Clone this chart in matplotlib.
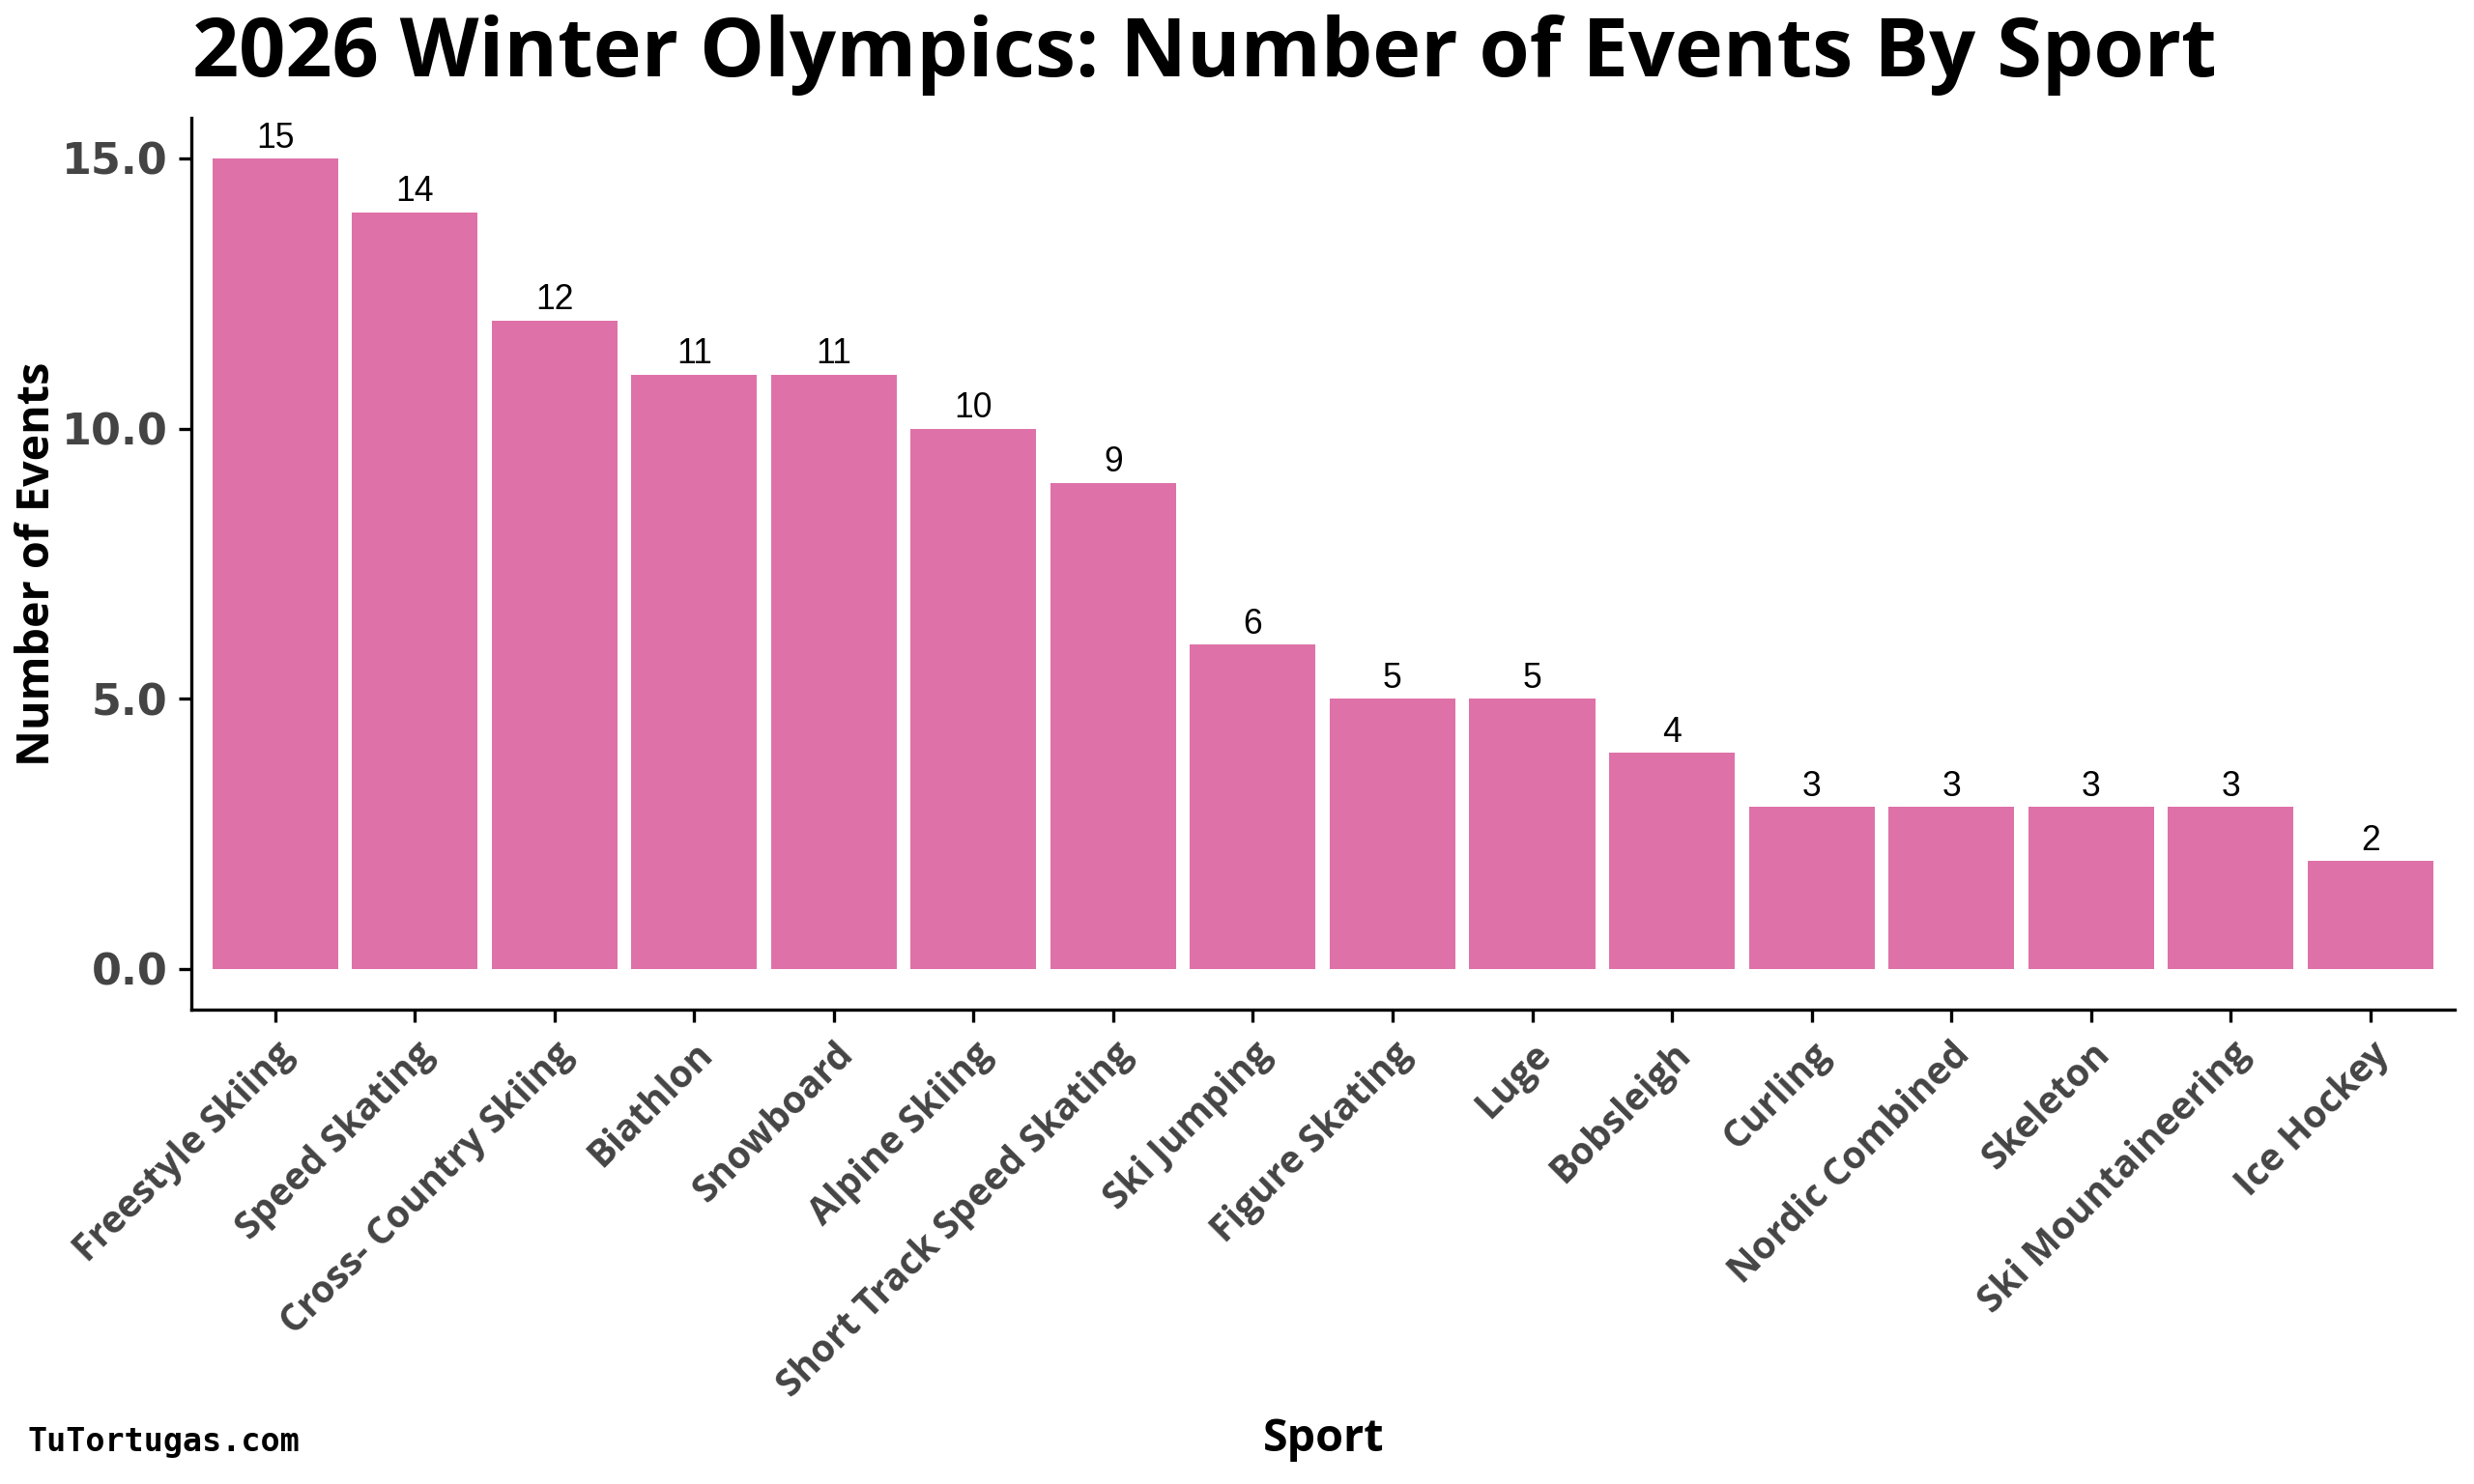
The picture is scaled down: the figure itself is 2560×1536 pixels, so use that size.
import matplotlib
matplotlib.use('Agg')
from matplotlib import pyplot as plt

# data
sports = ['Freestyle Skiing', 'Speed Skating', 'Cross- Country Skiing', 'Biathlon',
          'Snowboard', 'Alpine Skiing', 'Short Track Speed Skating', 'Ski Jumping',
          'Figure Skating', 'Luge', 'Bobsleigh', 'Curling', 'Nordic Combined',
          'Skeleton', 'Ski Mountaineering', 'Ice Hockey']
events = [15, 14, 12, 11, 11, 10, 9, 6, 5, 5, 4, 3, 3, 3, 3, 2]
yticks = [0.0, 5.0, 10.0, 15.0]

bar_color = '#de72a8'
tick_grey = '#444444'

fig = plt.figure(figsize=(16, 9.6), dpi=160)
ax = fig.add_axes([0.0773, 0.3197, 0.9147, 0.6009])

x = list(range(len(sports)))
bars = ax.bar(x, events, width=0.9, color=bar_color)

# value labels above each bar
for xi, v in zip(x, events):
    ax.text(xi, v + 0.06, str(v), ha='center', va='bottom',
            fontsize=16, family='Liberation Sans', color='black')

ax.set_xlim(-0.6, len(sports) - 0.4)
ax.set_ylim(-0.75, 15.75)
ax.set_yticks(yticks)
ax.set_yticklabels(['%.1f' % t for t in yticks], fontsize=20, fontweight='bold',
                   color=tick_grey, family='DejaVu Sans')
ax.set_xticks(x)
ax.set_xticklabels(sports, rotation=45, ha='right', rotation_mode='anchor',
                   fontsize=17.5, fontweight='bold', color=tick_grey, family='Open Sans')

for s in ['top', 'right']:
    ax.spines[s].set_visible(False)
for s in ['left', 'bottom']:
    ax.spines[s].set_linewidth(1.5)
    ax.spines[s].set_color('black')
ax.tick_params(axis='both', direction='out', length=6, width=1.5, color='black')
ax.tick_params(axis='y', pad=5)
ax.tick_params(axis='x', pad=6)

fig.text(0.487, 0.963, '2026 Winter Olympics: Number of Events By Sport',
         ha='center', va='center', fontsize=38, fontweight='bold',
         family='Open Sans', color='black')
fig.text(0.015, 0.62, 'Number of Events', rotation=90, ha='center', va='center',
         fontsize=21, fontweight='bold', family='Open Sans', color='black')
fig.text(0.535, 0.03, 'Sport', ha='center', va='center',
         fontsize=21, fontweight='bold', family='Open Sans', color='black')
fig.text(0.011, 0.028, 'TuTortugas.com', ha='left', va='center',
         fontsize=15, fontweight='bold', family='DejaVu Sans Mono', color='black')

fig.savefig('out.png', dpi=160, facecolor='white')
